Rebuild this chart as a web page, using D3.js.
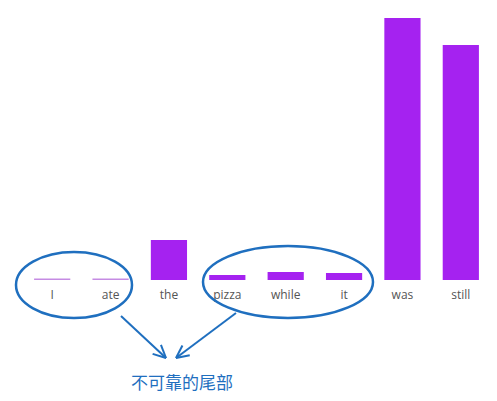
<!DOCTYPE html>
<html><head><meta charset="utf-8">
<script src="https://cdn.jsdelivr.net/npm/d3@7"></script>
<style>body{margin:0;background:#fff}</style></head>
<body><svg id="c" width="497" height="401"></svg>
<script>
const categories = ["I","ate","the","pizza","while","it","was","still"];
const values = [1.5,1.5,40,5,8,7,262,235];
const faded = [true,true,false,false,false,false,false,false];
const note = "不可靠的尾部";

const svg = d3.select("#c");
const x = d3.scaleBand().domain(categories).range([23,490]).paddingInner(0.38).paddingOuter(0.19);
const y = d3.scaleLinear().domain([0,262]).range([280,18]);

svg.selectAll("rect.bar").data(categories).join("rect")
  .attr("x", d=>x(d)).attr("width", x.bandwidth())
  .attr("y", (d,i)=>y(values[i])).attr("height",(d,i)=>y(0)-y(values[i]))
  .attr("fill",(d,i)=>faded[i]?"#c58be3":"#a522f0");

const axis = d3.axisBottom(x).tickSize(0).tickPadding(10);
const g = svg.append("g").attr("transform","translate(0,280)").call(axis);
g.select(".domain").remove();
g.selectAll("text").attr("font-family","Open Sans, sans-serif").attr("font-size",12).attr("fill","#555");

const blue = "#1f6fbf";
svg.append("ellipse").attr("cx",74).attr("cy",285).attr("rx",58).attr("ry",33)
  .attr("fill","none").attr("stroke",blue).attr("stroke-width",2.5);
svg.append("ellipse").attr("cx",288).attr("cy",282).attr("rx",85).attr("ry",36)
  .attr("fill","none").attr("stroke",blue).attr("stroke-width",2.5);
const arr = (x1,y1,x2,y2)=>{
  svg.append("line").attr("x1",x1).attr("y1",y1).attr("x2",x2).attr("y2",y2).attr("stroke",blue).attr("stroke-width",2);
  const a=Math.atan2(y2-y1,x2-x1), L=14;
  [-0.45,0.45].forEach(o=>svg.append("line").attr("x1",x2).attr("y1",y2)
    .attr("x2",x2-L*Math.cos(a+o)).attr("y2",y2-L*Math.sin(a+o)).attr("stroke",blue).attr("stroke-width",2));
};
arr(121,316,166,358);
arr(236,313,176,358);
svg.append("text").attr("x",182).attr("y",389).attr("text-anchor","middle")
  .attr("font-family","Noto Sans CJK SC").attr("font-size",17).attr("fill",blue).text(note);
</script></body></html>
